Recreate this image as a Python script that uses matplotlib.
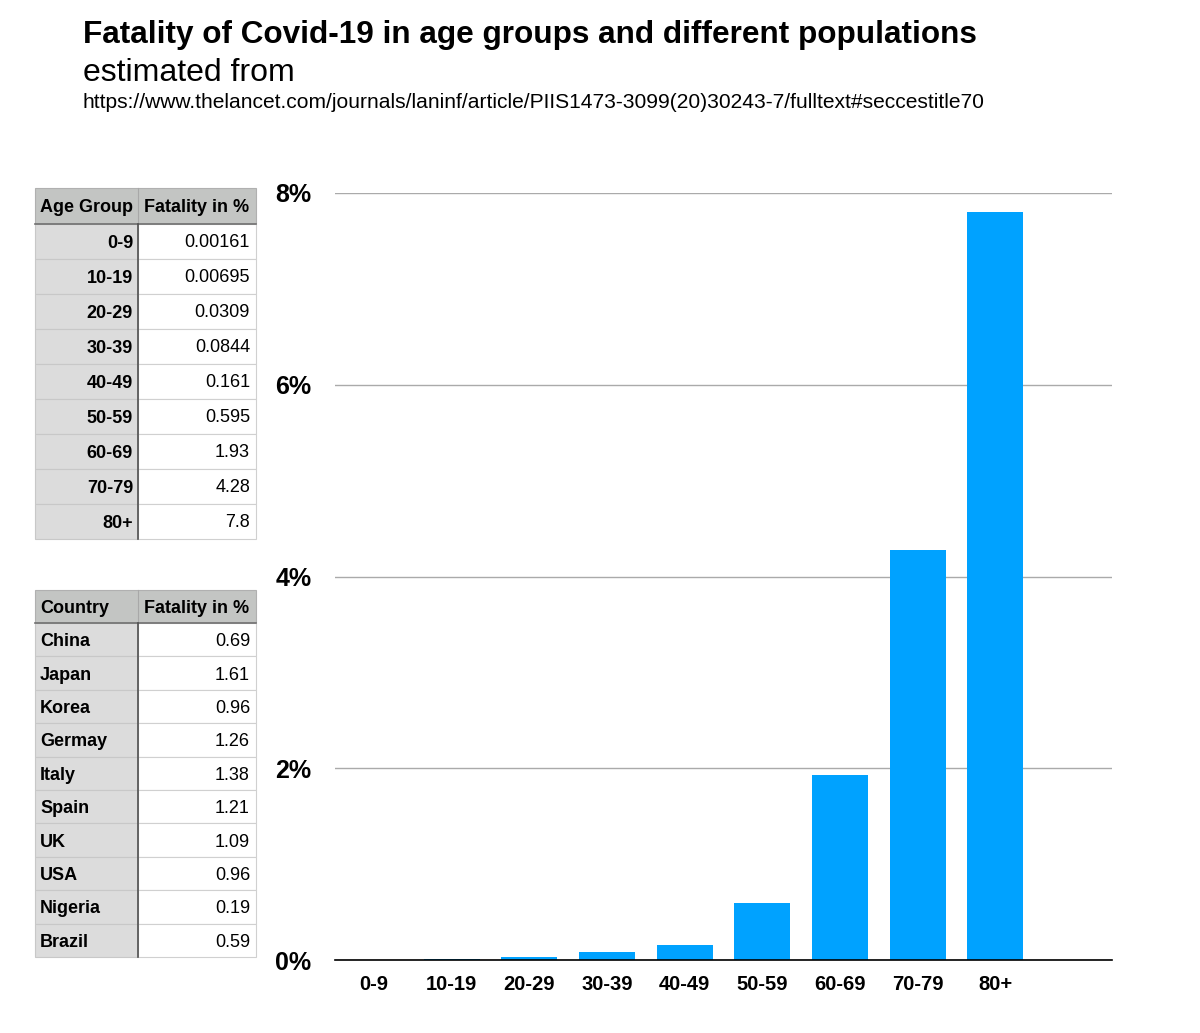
import matplotlib.pyplot as plt
from matplotlib.patches import Rectangle

plt.rcParams['font.family'] = ['Liberation Sans', 'DejaVu Sans']

# data
age_groups = ['0-9', '10-19', '20-29', '30-39', '40-49', '50-59', '60-69', '70-79', '80+']
age_fatality = [0.00161, 0.00695, 0.0309, 0.0844, 0.161, 0.595, 1.93, 4.28, 7.8]
age_fatality_txt = ['0.00161', '0.00695', '0.0309', '0.0844', '0.161', '0.595', '1.93', '4.28', '7.8']
countries = ['China', 'Japan', 'Korea', 'Germay', 'Italy', 'Spain', 'UK', 'USA', 'Nigeria', 'Brazil']
country_fatality_txt = ['0.69', '1.61', '0.96', '1.26', '1.38', '1.21', '1.09', '0.96', '0.19', '0.59']
y_ticks = [0, 2, 4, 6, 8]

W, H = 1200, 1033
dpi = 100
fig = plt.figure(figsize=(W / dpi, H / dpi), dpi=dpi)


def px_axes(x0, y0, x1, y1):
    # pixel box (top-left origin) -> figure axes
    return fig.add_axes([x0 / W, 1 - y1 / H, (x1 - x0) / W, (y1 - y0) / H])


# bar chart
ax = px_axes(335, 193, 1112, 960)
ax.bar(range(len(age_groups)), age_fatality, width=0.72, color='#00a2ff', zorder=2)
ax.set_xlim(-0.5, 9.5)
ax.set_ylim(0, 8)
ax.set_yticks(y_ticks)
ax.set_yticklabels([f'{t}%' for t in y_ticks], fontsize=18, fontweight='bold')
ax.set_xticks(range(len(age_groups)))
ax.set_xticklabels(age_groups, fontsize=14.5, fontweight='bold')
ax.tick_params(axis='y', length=0, pad=17)
ax.tick_params(axis='x', length=0, pad=11)
ax.grid(axis='y', color='#aaaaaa', linewidth=1, zorder=0)
ax.spines[['right', 'top', 'left']].set_visible(False)
ax.spines['bottom'].set_color('black')
ax.spines['bottom'].set_linewidth(1.2)
ax.spines['bottom'].set_zorder(3)

# titles
fig.text(83 / W, 1 - 35 / H, 'Fatality of Covid-19 in age groups and different populations',
         fontsize=22.7, fontweight='bold', va='center', ha='left')
fig.text(83 / W, 1 - 73 / H, 'estimated from', fontsize=23, va='center', ha='left')
fig.text(83 / W, 1 - 102 / H,
         'https://www.thelancet.com/journals/laninf/article/PIIS1473-3099(20)30243-7/fulltext#seccestitle70',
         fontsize=15.1, va='center', ha='left')

# tables drawn on an overlay in pixel coords
tab = fig.add_axes([0, 0, 1, 1])
tab.set_xlim(0, W)
tab.set_ylim(H, 0)
tab.axis('off')


def draw_table(top, head_h, row_h, header, labels, values, label_right, val_dy):
    x0, xs, x1 = 35, 138, 256
    tab.add_patch(Rectangle((x0, top), x1 - x0, head_h, facecolor='#c3c5c3', edgecolor='#b0b0b0', lw=0.8))
    tab.plot([xs, xs], [top, top + head_h], color='#a8a8a8', lw=0.8)
    tab.text(x0 + 5, top + head_h / 2 + 2, header[0], fontsize=13, fontweight='bold', va='center', ha='left')
    tab.text(xs + 6, top + head_h / 2 + 2, header[1], fontsize=13, fontweight='bold', va='center', ha='left')
    for i, (lab, val) in enumerate(zip(labels, values)):
        y = top + head_h + i * row_h
        tab.add_patch(Rectangle((x0, y), xs - x0, row_h, facecolor='#dcdcdc', edgecolor='#c8c8c8', lw=0.8))
        tab.add_patch(Rectangle((xs, y), x1 - xs, row_h, facecolor='white', edgecolor='#d0d0d0', lw=0.8))
        if label_right:
            tab.text(xs - 5, y + row_h / 2 + 2, lab, fontsize=13, fontweight='bold', va='center', ha='right')
        else:
            tab.text(x0 + 5, y + row_h / 2 + 2, lab, fontsize=13, fontweight='bold', va='center', ha='left')
        tab.text(x1 - 6, y + row_h / 2 + val_dy, val, fontsize=13, va='center', ha='right')
    bottom = top + head_h + len(labels) * row_h
    tab.plot([x0, x1], [top + head_h, top + head_h], color='#707070', lw=1.2)
    tab.plot([xs, xs], [top + head_h, bottom], color='#505050', lw=1.2)


draw_table(188, 36, 35, ['Age Group', 'Fatality in %'], age_groups, age_fatality_txt, True, 1)
draw_table(590, 33, 33.4, ['Country', 'Fatality in %'], countries, country_fatality_txt, False, 2)

fig.savefig('out.png', dpi=dpi)
